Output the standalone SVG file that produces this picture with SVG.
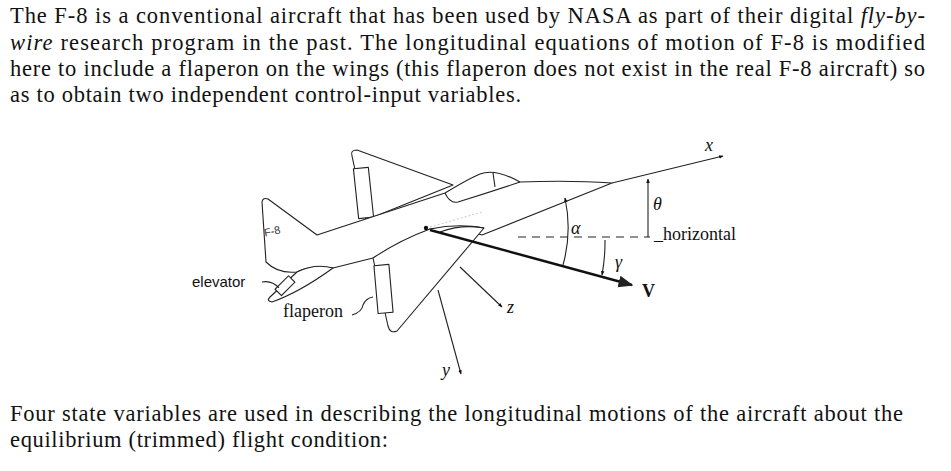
<svg xmlns="http://www.w3.org/2000/svg" width="951" height="471" viewBox="0 0 951 471">
<defs>
<style>
.t{font-family:"Liberation Serif",serif;font-size:22.5px;fill:#111}
.l{font-family:"Liberation Serif",serif;font-size:18px;fill:#111}
.s{fill:none;stroke:#222;stroke-width:1.1}
.w{fill:#fff;stroke:#222;stroke-width:1.1;stroke-linejoin:round}
</style>
<marker id="a" viewBox="0 0 10 10" refX="9" refY="5" markerWidth="6" markerHeight="6" orient="auto"><path d="M0,1 L10,5 L0,9z" fill="#222"/></marker>
<marker id="b" viewBox="0 0 10 10" refX="9" refY="5" markerWidth="4" markerHeight="4" orient="auto"><path d="M0,1 L10,5 L0,9z" fill="#111"/></marker>
</defs>
<rect width="951" height="471" fill="#fff"/>
<g id="text">
<text class="t" x="10" y="23" textLength="915" lengthAdjust="spacing">The F-8 is a conventional aircraft that has been used by NASA as part of their digital <tspan font-style="italic">fly-by-</tspan></text>
<text class="t" x="10" y="50" textLength="915" lengthAdjust="spacing"><tspan font-style="italic">wire</tspan> research program in the past. The longitudinal equations of motion of F-8 is modified</text>
<text class="t" x="10" y="76" textLength="915" lengthAdjust="spacing">here to include a flaperon on the wings (this flaperon does not exist in the real F-8 aircraft) so</text>
<text class="t" x="10" y="102" textLength="511" lengthAdjust="spacing">as to obtain two independent control-input variables.</text>
<text class="t" x="10" y="421" textLength="893" lengthAdjust="spacing">Four state variables are used in describing the longitudinal motions of the aircraft about the</text>
<text class="t" x="10" y="447" textLength="378" lengthAdjust="spacing">equilibrium (trimmed) flight condition:</text>
</g>
<g id="aircraft">
<path class="w" d="M453,185 L357,150 Q350,150 352,156 L366,220 Z"/>
<rect x="356" y="168" width="15" height="50" class="w" transform="rotate(-6 363 193)"/>
<path class="w" d="M262,202 Q263,197 268,199 L317,235 L445,193 Q470,178 480,174 Q495,168 520,182 Q570,180 612,183 L482,235 Q455,226 430,229 Q410,240 373,258 L333,268 Q310,265 297,272 Q278,274 266,262 Z"/>
<path class="s" d="M445,193 Q450,204 458,202 Q490,192 520,182"/>
<path class="s" d="M493,173 L495,187"/>
<path class="w" d="M297,272 Q315,263 333,268 Q300,292 272,302 Q266,301 270,297 Z"/>
<rect x="281" y="276" width="9" height="19" class="w" transform="rotate(45 285 285)"/>
<path class="w" d="M430,229 Q458,223 484,228 L397,331 Q390,334 388,326 L373,258 Q400,240 430,229 Z"/>
<path class="s" d="M440,232 Q462,224 484,228"/>
<rect x="376" y="265" width="15" height="48" class="w" transform="rotate(-5 383 289)"/>
<text x="264" y="236" font-family="Liberation Sans,sans-serif" font-size="11" fill="#333" transform="rotate(-12 268 232)">F-8</text>
<path d="M430,227 L482,212" stroke="#bbb" stroke-width="0.8" stroke-dasharray="2,2"/>
<circle cx="426" cy="228" r="2.2" fill="#111"/>
</g>
<g id="connectors">
<path class="s" d="M612,183 L723,156" marker-end="url(#b)"/>
<path d="M430,230 L632,285" stroke="#111" stroke-width="2.5" fill="none" marker-end="url(#a)"/>
<path class="s" d="M518,237 L650,237" stroke-dasharray="8,6"/>
<path class="s" d="M648,237 L648,179" marker-end="url(#b)"/>
<path class="s" d="M563,265 A140,140 0 0 0 565,198" marker-end="url(#b)"/>
<path class="s" d="M605,240 A180,180 0 0 1 602,275" marker-end="url(#b)"/>
<path class="s" d="M460,267 L502,307" marker-end="url(#b)"/>
<path class="s" d="M438,290 L461,374" marker-end="url(#b)"/>
<path class="s" d="M262,282 Q272,280 279,288"/>
<path class="s" d="M352,315 Q362,312 363,305 Q366,298 373,297"/>
</g>
<g id="labels">
<text class="l" font-style="italic" x="705" y="151">x</text>
<text class="l" font-style="italic" x="653" y="210">θ</text>
<text class="l" font-style="italic" x="571" y="234">α</text>
<text class="l" font-style="italic" x="615" y="268">γ</text>
<text class="l" x="654" y="240" font-size="19">_horizontal</text>
<text class="l" font-weight="bold" x="642" y="297" font-size="19">V</text>
<text class="l" font-style="italic" x="507" y="313">z</text>
<text class="l" font-style="italic" x="442" y="376">y</text>
<text x="192" y="287" font-family="Liberation Sans,sans-serif" font-size="15" fill="#111">elevator</text>
<text class="l" x="283" y="317">flaperon</text>
</g>
</svg>
